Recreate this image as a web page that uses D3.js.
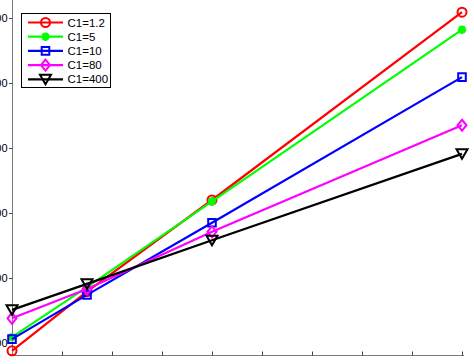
<!DOCTYPE html>
<html>
<head>
<meta charset="utf-8">
<script src="https://cdn.jsdelivr.net/npm/d3@7"></script>
<style>
  html, body { margin: 0; padding: 0; background: #fff; }
  svg { display: block; }
</style>
</head>
<body>
<svg id="chart" width="474" height="364"></svg>
<script>
// ---- data ----
const xValues = [0.1, 0.25, 0.5, 1.0];
const seriesNames = ["C1=1.2", "C1=5", "C1=10", "C1=80", "C1=400"];
const seriesRed     = [88, 179, 320, 609];
const seriesGreen   = [109, 186, 318, 582];
const seriesBlue    = [106, 174, 285, 509];
const seriesMagenta = [138, 183, 271, 435];
const seriesBlack   = [151, 191, 258, 391];
const xTicks = [0.1, 0.2, 0.3, 0.4, 0.5, 0.6, 0.7, 0.8, 0.9, 1.0];
const yTicks = [100, 200, 300, 400, 500, 600];

const seriesValues = [seriesRed, seriesGreen, seriesBlue, seriesMagenta, seriesBlack];
const colors = ["#ff0000", "#00ff00", "#0000ff", "#ff00ff", "#000000"];
const markers = ["circle", "asterisk", "square", "diamond", "triangleDown"];

const svg = d3.select("#chart");
const x = d3.scaleLinear().domain([0.1, 1.0]).range([12, 462]);
const y = d3.scaleLinear().domain([100, 600]).range([343, 18]);
const yBottom = 355.5, yTop = -5;

const axisColor = "#7a7a7a";

// x axis (baseline + inward ticks)
const gx = svg.append("g");
gx.append("line").attr("x1", x(0.1)).attr("x2", x(1.0) + 2)
  .attr("y1", yBottom).attr("y2", yBottom)
  .attr("stroke", axisColor).attr("stroke-width", 1);
gx.selectAll("line.tick").data(xTicks).enter().append("line")
  .attr("class", "tick")
  .attr("x1", d => Math.round(x(d)) + 0.5).attr("x2", d => Math.round(x(d)) + 0.5)
  .attr("y1", yBottom).attr("y2", yBottom - 4)
  .attr("stroke", "#444").attr("stroke-width", 1);

// y axis
const gy = svg.append("g");
gy.append("line").attr("x1", 12.5).attr("x2", 12.5)
  .attr("y1", yTop).attr("y2", yBottom)
  .attr("stroke", axisColor).attr("stroke-width", 1);
gy.selectAll("line.tick").data(yTicks).enter().append("line")
  .attr("class", "tick")
  .attr("x1", 9).attr("x2", 12.5)
  .attr("y1", d => Math.round(y(d)) + 0.5).attr("y2", d => Math.round(y(d)) + 0.5)
  .attr("stroke", "#444").attr("stroke-width", 1);
gy.selectAll("text").data(yTicks).enter().append("text")
  .attr("x", 7.5).attr("y", d => y(d))
  .attr("dy", "0.35em")
  .attr("text-anchor", "end")
  .attr("font-family", "Liberation Sans, Arial, sans-serif")
  .attr("font-size", 11)
  .attr("fill", "#000")
  .text(d => d);

// marker shapes
function markerPath(type) {
  const p = d3.path();
  if (type === "circle") {
    p.moveTo(4.5, 0); p.arc(0, 0, 4.5, 0, 2 * Math.PI);
  } else if (type === "square") {
    p.rect(-3.8, -3.8, 7.6, 7.6);
  } else if (type === "diamond") {
    p.moveTo(0, -5.5); p.lineTo(4.5, 0); p.lineTo(0, 5.5); p.lineTo(-4.5, 0); p.closePath();
  } else if (type === "triangleDown") {
    p.moveTo(-5.5, -4.5); p.lineTo(5.5, -4.5); p.lineTo(0, 5); p.closePath();
  } else if (type === "asterisk") {
    const r = 4.2, r2 = 3;
    p.moveTo(-r, 0); p.lineTo(r, 0);
    p.moveTo(0, -r); p.lineTo(0, r);
    p.moveTo(-r2, -r2); p.lineTo(r2, r2);
    p.moveTo(-r2, r2); p.lineTo(r2, -r2);
  }
  return p.toString();
}

const line = d3.line().x((d, i) => x(xValues[i])).y(d => y(d));

seriesValues.forEach((vals, si) => {
  const g = svg.append("g");
  g.append("path").datum(vals)
    .attr("d", line)
    .attr("fill", "none")
    .attr("stroke", colors[si])
    .attr("stroke-width", 2.2);
  g.selectAll("path.mk").data(vals).enter().append("path")
    .attr("class", "mk")
    .attr("transform", (d, i) => `translate(${x(xValues[i])},${y(d)})`)
    .attr("d", markerPath(markers[si]))
    .attr("fill", markers[si] === "asterisk" ? colors[si] : "none")
    .attr("stroke", colors[si])
    .attr("stroke-width", markers[si] === "asterisk" ? 2.6 : 2);
});

// legend
const lg = svg.append("g");
lg.append("rect").attr("x", 21.5).attr("y", 13.5).attr("width", 89).attr("height", 74)
  .attr("fill", "#fff").attr("stroke", "#000").attr("stroke-width", 1);
seriesNames.forEach((name, i) => {
  const yy = 22.5 + i * 14.2;
  lg.append("line").attr("x1", 28).attr("x2", 63).attr("y1", yy).attr("y2", yy)
    .attr("stroke", colors[i]).attr("stroke-width", 2.2);
  lg.append("path").attr("transform", `translate(45.5,${yy})`)
    .attr("d", markerPath(markers[i]))
    .attr("fill", markers[i] === "asterisk" ? colors[i] : "none")
    .attr("stroke", colors[i])
    .attr("stroke-width", markers[i] === "asterisk" ? 2.6 : 2);
  lg.append("text").attr("x", 67.5).attr("y", yy).attr("dy", "0.36em")
    .attr("font-family", "Liberation Sans, Arial, sans-serif")
    .attr("font-size", 11.5)
    .attr("fill", "#000")
    .text(name);
});
</script>
</body>
</html>
